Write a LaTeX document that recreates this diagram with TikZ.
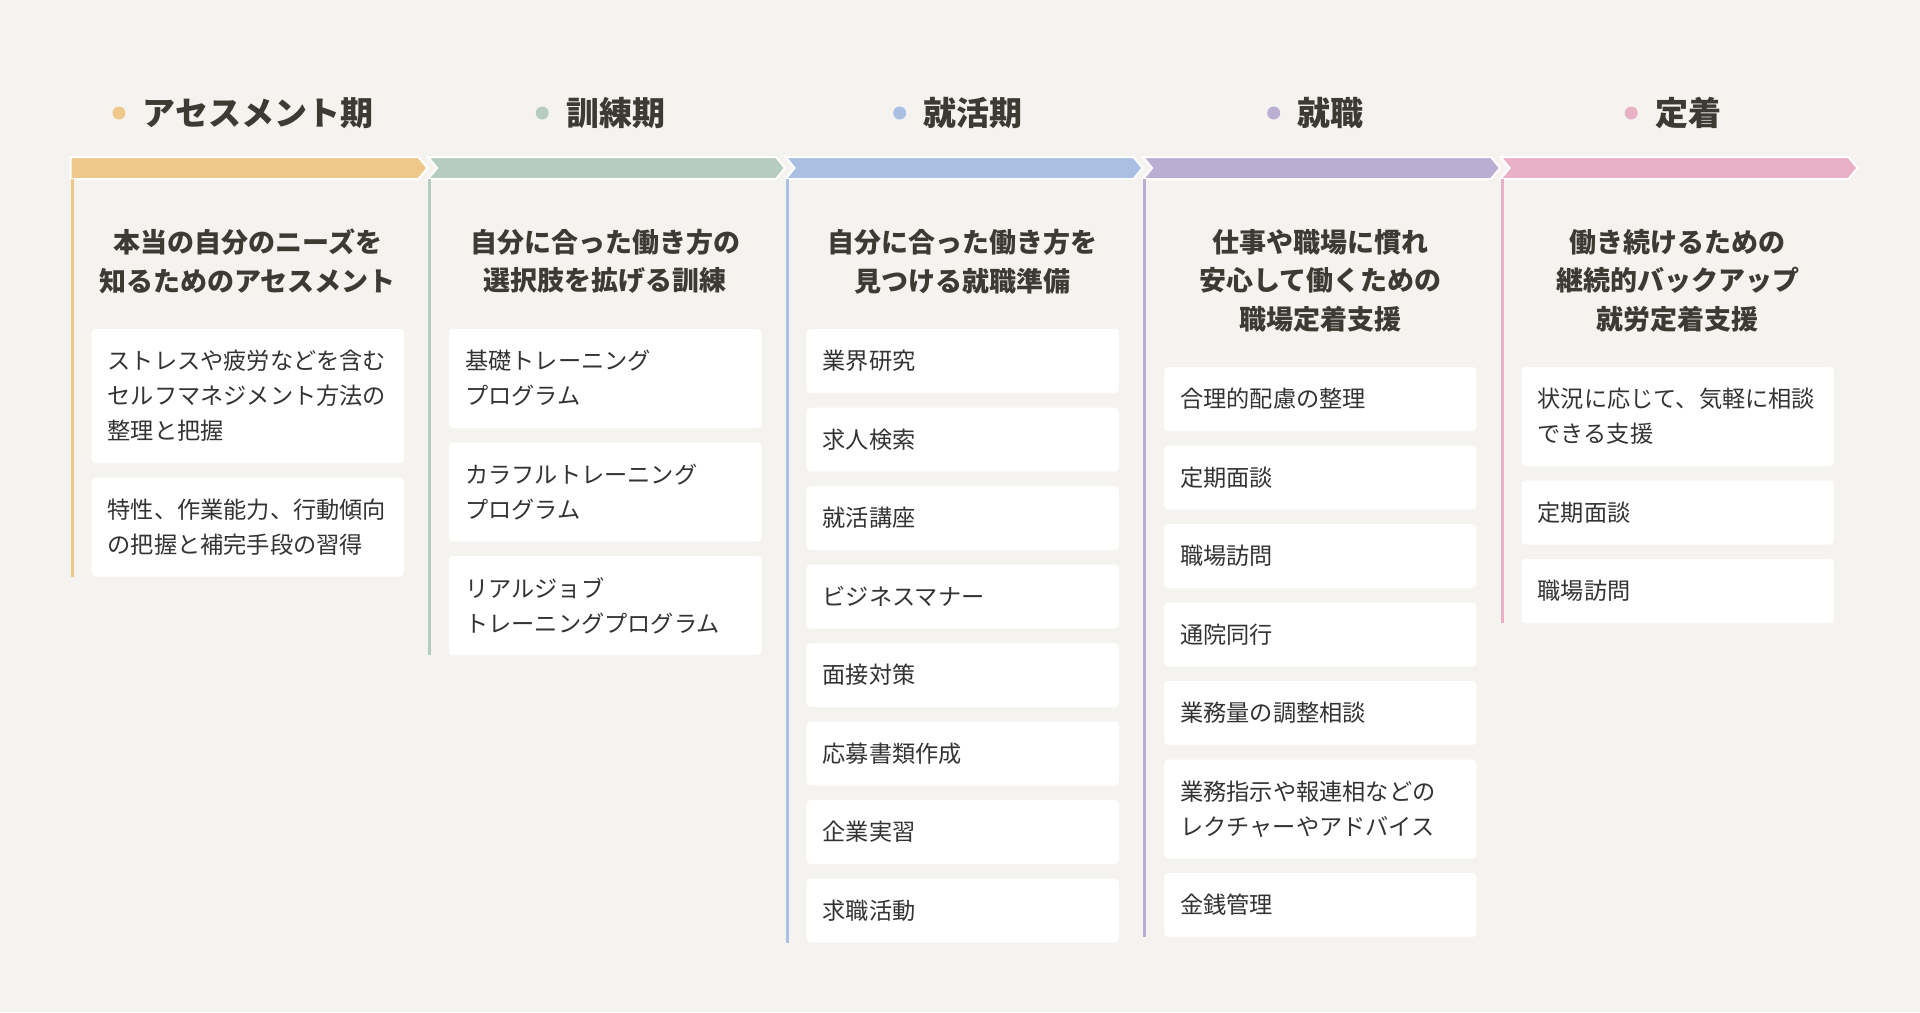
\documentclass[tikz,border=0pt]{standalone}
\usepackage{fontspec}
\usepackage{xcolor}
\usetikzlibrary{positioning}
\newfontfamily\jpfont{Noto Sans CJK JP}
\definecolor{bgc}{HTML}{F4F3EF}
\definecolor{ink}{HTML}{3B3A33}
\definecolor{boxink}{HTML}{333333}
\definecolor{phaseA}{HTML}{EEC88B}
\definecolor{phaseB}{HTML}{B7CCC0}
\definecolor{phaseC}{HTML}{ABBFE3}
\definecolor{phaseD}{HTML}{BAAFD3}
\definecolor{phaseE}{HTML}{E9B1C5}
\tikzstyle{phase title}=[
        text = ink,
        font = \jpfont\bfseries\fontsize{16.5pt}{20pt}\selectfont,
        inner sep = 0pt
    ]
\tikzstyle{phase dot}=[
    circle,
    minimum size = 6.5pt,
    inner sep = 0pt
]
\tikzstyle{phase lead}=[
    text = ink,
    font = \jpfont\bfseries\fontsize{13.5pt}{19.25pt}\selectfont,
    align = center,
    inner sep = 0pt
]
\tikzstyle{item box}=[
    fill = white,
    rounded corners = 2pt,
    text = boxink,
    font = \jpfont\fontsize{11.6pt}{17.5pt}\selectfont,
    align = left,
    text width = 140pt,
    inner xsep = 8.1pt,
    inner ysep = 0pt,
    outer sep = 0pt,
    minimum height = 32pt
]
\tikzstyle{two lines}=[minimum height = 49.5pt]
\tikzstyle{three lines}=[minimum height = 67pt]
\tikzstyle{band}=[draw = white, line width = 1pt]
\tikzstyle{rail}=[line width = 1.5pt]

\begin{document}
\begin{tikzpicture}[x=0.5pt, y=0.5pt, node distance={7.25pt}]
        \fill[bgc] (0,0) rectangle (1920,-1012);

        % chevrons
        \path[band, fill = phaseA] (70.5,-157) -- (418.5,-157) -- (427.5,-168) -- (418.5,-179) -- (70.5,-179) -- cycle;
        \path[band, fill = phaseB] (428,-157) -- (776,-157) -- (785,-168) -- (776,-179) -- (428,-179) -- (437,-168) -- cycle;
        \path[band, fill = phaseC] (785.5,-157) -- (1133.5,-157) -- (1142.5,-168) -- (1133.5,-179) -- (785.5,-179) -- (794.5,-168) -- cycle;
        \path[band, fill = phaseD] (1143,-157) -- (1491,-157) -- (1500,-168) -- (1491,-179) -- (1143,-179) -- (1152,-168) -- cycle;
        \path[band, fill = phaseE] (1500.5,-157) -- (1848.5,-157) -- (1857.5,-168) -- (1848.5,-179) -- (1500.5,-179) -- (1509.5,-168) -- cycle;

        \coordinate (ra) at (72,-179);
        \coordinate (rb) at (429.5,-179);
        \coordinate (rc) at (787,-179);
        \coordinate (rd) at (1144.5,-179);
        \coordinate (re) at (1502,-179);

        % titles
        \node[phase title] (ta) at (258,-113) {アセスメント期};
        \node[phase title] (tb) at (615.5,-113) {訓練期};
        \node[phase title] (tc) at (973,-113) {就活期};
        \node[phase title] (td) at (1330.5,-113) {就職};
        \node[phase title] (te) at (1688,-113) {定着};
        \node[phase dot, fill = phaseA] (da) [left = 8.25pt of ta] {};
        \node[phase dot, fill = phaseB] (db) [left = 8.25pt of tb] {};
        \node[phase dot, fill = phaseC] (dc) [left = 8.25pt of tc] {};
        \node[phase dot, fill = phaseD] (dd) [left = 8.25pt of td] {};
        \node[phase dot, fill = phaseE] (de) [left = 8.25pt of te] {};

        % leads
        \node[phase lead] (la) at (247.75,-261.5) {本当の自分のニーズを\\知るためのアセスメント};
        \node[phase lead] (lb) at (605.25,-261.5) {自分に合った働き方の\\選択肢を拡げる訓練};
        \node[phase lead] (lc) at (962.75,-261.5) {自分に合った働き方を\\見つける就職準備};
        \node[phase lead] (ld) at (1320.25,-280.5) {仕事や職場に慣れ\\安心して働くための\\職場定着支援};
        \node[phase lead] (le) at (1677.75,-280.5) {働き続けるための\\継続的バックアップ\\就労定着支援};

        % assessment
        \node[item box, three lines, anchor = north] (a1) at (247.75,-329) {ストレスや疲労などを含む\\セルフマネジメント方法の\\整理と把握};
        \node[item box, two lines] (a2) [below = of a1] {特性、作業能力、行動傾向\\の把握と補完手段の習得};

        % training
        \node[item box, two lines, anchor = north] (b1) at (605.25,-329) {基礎トレーニング\\プログラム};
        \node[item box, two lines] (b2) [below = of b1] {カラフルトレーニング\\プログラム};
        \node[item box, two lines] (b3) [below = of b2] {リアルジョブ\\トレーニングプログラム};

        % job hunting
        \node[item box, anchor = north] (c1) at (962.75,-329) {業界研究};
        \node[item box] (c2) [below = of c1] {求人検索};
        \node[item box] (c3) [below = of c2] {就活講座};
        \node[item box] (c4) [below = of c3] {ビジネスマナー};
        \node[item box] (c5) [below = of c4] {面接対策};
        \node[item box] (c6) [below = of c5] {応募書類作成};
        \node[item box] (c7) [below = of c6] {企業実習};
        \node[item box] (c8) [below = of c7] {求職活動};

        % employment
        \node[item box, anchor = north] (d1) at (1320.25,-367) {合理的配慮の整理};
        \node[item box] (d2) [below = of d1] {定期面談};
        \node[item box] (d3) [below = of d2] {職場訪問};
        \node[item box] (d4) [below = of d3] {通院同行};
        \node[item box] (d5) [below = of d4] {業務量の調整相談};
        \node[item box, two lines] (d6) [below = of d5] {業務指示や報連相などの\\レクチャーやアドバイス};
        \node[item box] (d7) [below = of d6] {金銭管理};

        % retention
        \node[item box, two lines, anchor = north] (e1) at (1677.75,-367) {状況に応じて、気軽に相談\\できる支援};
        \node[item box] (e2) [below = of e1] {定期面談};
        \node[item box] (e3) [below = of e2] {職場訪問};

        \draw[rail, phaseA] (ra) -- (ra |- a2.south);
        \draw[rail, phaseB] (rb) -- (rb |- b3.south);
        \draw[rail, phaseC] (rc) -- (rc |- c8.south);
        \draw[rail, phaseD] (rd) -- (rd |- d7.south);
        \draw[rail, phaseE] (re) -- (re |- e3.south);

    \end{tikzpicture}
\end{document}
